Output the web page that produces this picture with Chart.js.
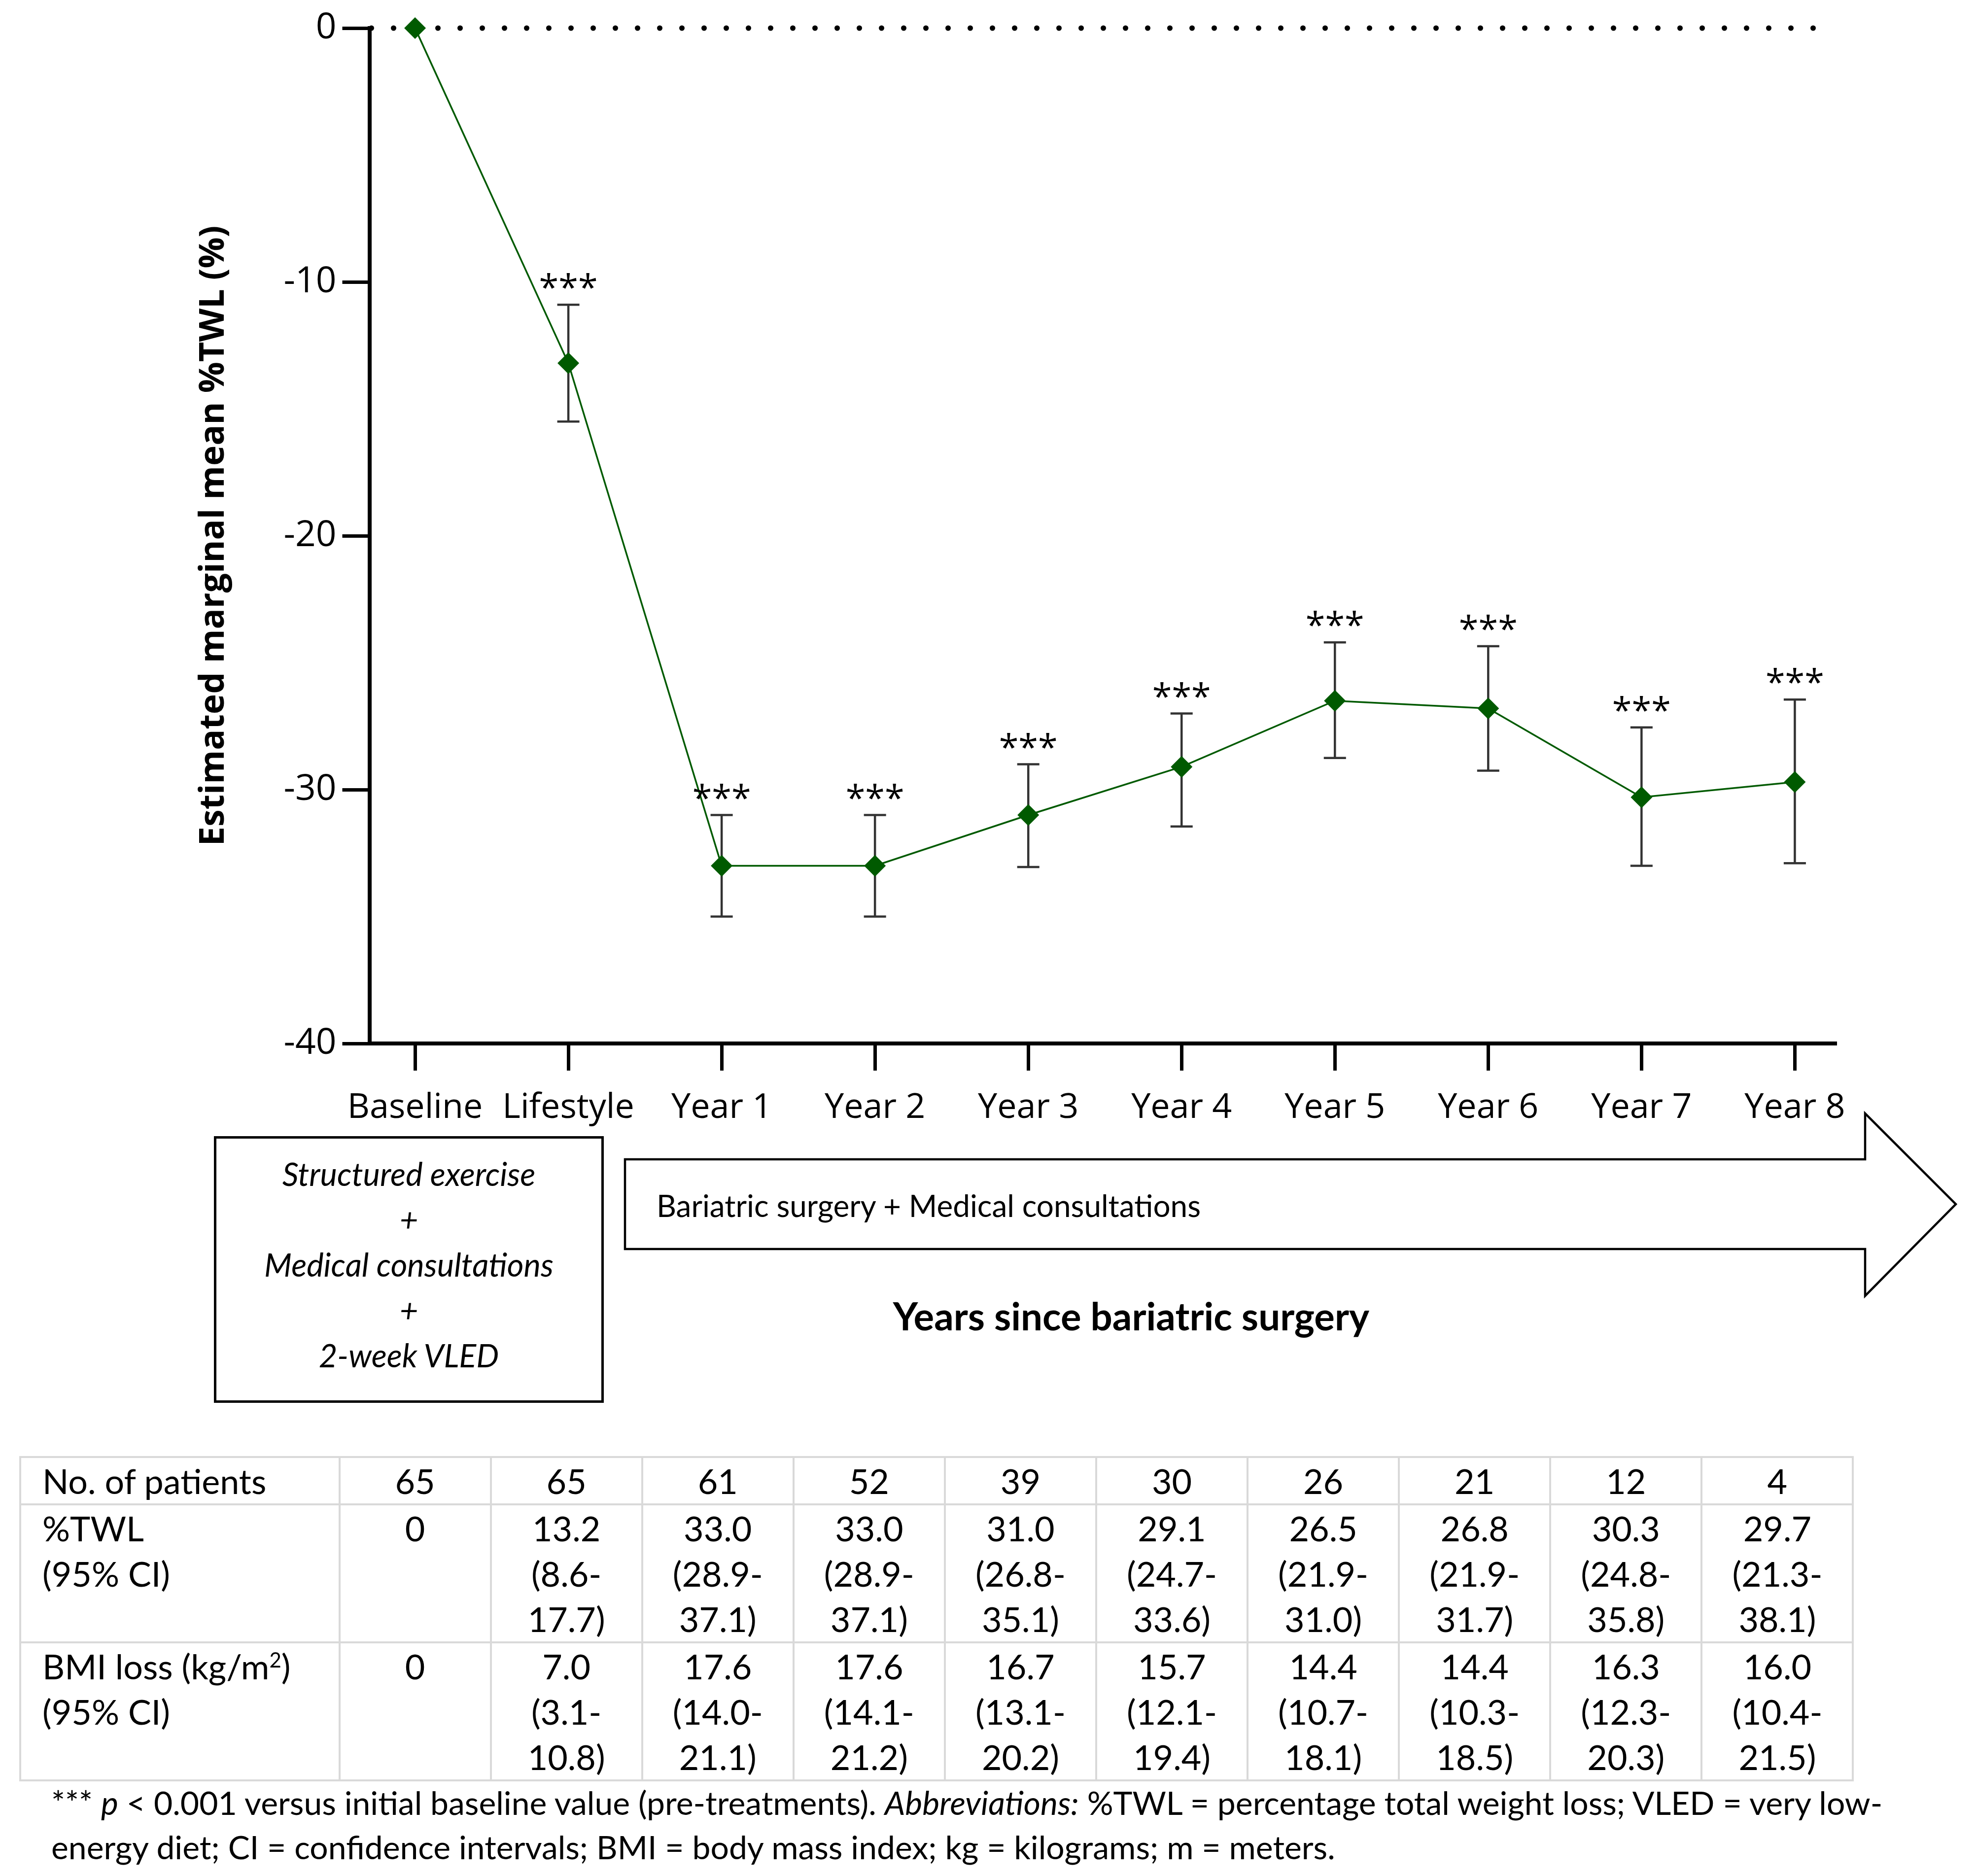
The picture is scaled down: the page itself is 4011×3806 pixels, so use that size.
<!DOCTYPE html>
<html>
<head>
<meta charset="utf-8">
<title>%TWL after lifestyle intervention and bariatric surgery</title>
<script src="https://cdn.jsdelivr.net/npm/chart.js@4.4.1/dist/chart.umd.min.js"></script>
<style>
  html, body { margin: 0; padding: 0; background: #fff; }
  #page { position: relative; width: 4011px; height: 3806px; overflow: hidden; background: #fff; color: #000; font-family: Lato, 'Open Sans', sans-serif; }
  #chart { position: absolute; left: 0; top: 0; }
  #shapes { position: absolute; left: 0; top: 0; }
  .txt { position: absolute; white-space: nowrap; }
  #phase1 { position: absolute; left: 434px; top: 2305px; width: 791px; height: 541px; box-sizing: border-box; border: 5px solid #000; }
  #phase1Text { left: 434px; top: 2335px; width: 791px; text-align: center; font-style: italic; font-size: 65px; line-height: 92px; }
  #phase2Text { left: 1332px; top: 2399px; font-size: 62px; line-height: 92px; }
  #xTitle { left: 1795px; top: 2623px; width: 1000px; text-align: center; font-weight: bold; font-size: 78px; line-height: 92px; }
  #summary { position: absolute; left: 39px; top: 2954px; border-collapse: collapse; table-layout: fixed; font-size: 70px; line-height: 92px; }
  #summary td { border: 4px solid #d9d9d9; padding: 0; vertical-align: top; text-align: center; }
  #summary td:first-child { text-align: left; padding-left: 43px; }
  sup { font-size: 0.6em; line-height: 0; }
  #footnote { left: 104px; top: 3612px; font-size: 66px; line-height: 90px; }
</style>
</head>
<body>
<div id="page">
  <canvas id="chart" width="4011" height="2300"></canvas>

  <!-- treatment phases under the x axis -->
  <svg id="shapes" width="4011" height="3806">
    <polygon points="1268,2352 3784,2352 3784,2259 3968,2443 3784,2629 3784,2534 1268,2534"
             fill="#fff" stroke="#000" stroke-width="4.5" stroke-linejoin="miter"/>
  </svg>
  <div id="phase1"></div>
  <div id="phase1Text" class="txt">Structured exercise<br>+<br>Medical consultations<br>+<br>2-week VLED</div>
  <div id="phase2Text" class="txt">Bariatric surgery + Medical consultations</div>
  <div id="xTitle" class="txt">Years since bariatric surgery</div>

  <table id="summary"><colgroup id="cols"></colgroup><tbody id="rows"></tbody></table>

  <div id="footnote" class="txt">*** <i>p</i> &lt; 0.001 versus initial baseline value (pre-treatments). <i>Abbreviations:</i> %TWL = percentage total weight loss; VLED = very low-<br>energy diet; CI = confidence intervals; BMI = body mass index; kg = kilograms; m = meters.</div>
</div>

<script>
// Time points
const categories = ['Baseline', 'Lifestyle', 'Year 1', 'Year 2', 'Year 3', 'Year 4', 'Year 5', 'Year 6', 'Year 7', 'Year 8'];

// Plotted estimated marginal mean %TWL and its error bar ends
const meanChange = [0, -13.2, -33.0, -33.0, -31.0, -29.1, -26.5, -26.8, -30.3, -29.7];
const errUpper = [null, -10.9, -31.0, -31.0, -29.0, -27.0, -24.2, -24.35, -27.55, -26.45];
const errLower = [null, -15.5, -35.0, -35.0, -33.05, -31.45, -28.75, -29.25, -33.0, -32.9];
const sigLabels = ['', '***', '***', '***', '***', '***', '***', '***', '***', '***'];
const yTicks = [0, -10, -20, -30, -40];

// Table below the chart
const patientCounts = [65, 65, 61, 52, 39, 30, 26, 21, 12, 4];
const twlMean = [0, 13.2, 33.0, 33.0, 31.0, 29.1, 26.5, 26.8, 30.3, 29.7];
const twlCiLow = [null, 8.6, 28.9, 28.9, 26.8, 24.7, 21.9, 21.9, 24.8, 21.3];
const twlCiHigh = [null, 17.7, 37.1, 37.1, 35.1, 33.6, 31.0, 31.7, 35.8, 38.1];
const bmiLoss = [0, 7.0, 17.6, 17.6, 16.7, 15.7, 14.4, 14.4, 16.3, 16.0];
const bmiCiLow = [null, 3.1, 14.0, 14.1, 13.1, 12.1, 10.7, 10.3, 12.3, 10.4];
const bmiCiHigh = [null, 10.8, 21.1, 21.2, 20.2, 19.4, 18.1, 18.5, 20.3, 21.5];

const green = '#005a00';
const canvasHeight = 2300;

// Error bars, the dotted zero line and the significance stars
const errorBars = {
  id: 'errorBars',
  beforeDatasetsDraw(chart) {
    const { ctx, chartArea, scales: { x, y } } = chart;
    ctx.save();

    // dotted reference line at 0
    const y0 = y.getPixelForValue(0);
    ctx.strokeStyle = '#000';
    ctx.lineWidth = 11;
    ctx.lineCap = 'round';
    ctx.setLineDash([0, 45]);
    ctx.beginPath();
    ctx.moveTo(chartArea.left + 4, y0);
    ctx.lineTo(chartArea.right - 30, y0);
    ctx.stroke();
    ctx.setLineDash([]);

    // whiskers
    ctx.strokeStyle = '#333';
    ctx.lineWidth = 4.5;
    ctx.lineCap = 'butt';
    errUpper.forEach((hi, i) => {
      if (hi === null) return;
      const px = x.getPixelForValue(i);
      const top = y.getPixelForValue(hi);
      const bottom = y.getPixelForValue(errLower[i]);
      ctx.beginPath();
      ctx.moveTo(px, top);
      ctx.lineTo(px, bottom);
      ctx.moveTo(px - 22.5, top);
      ctx.lineTo(px + 22.5, top);
      ctx.moveTo(px - 22.5, bottom);
      ctx.lineTo(px + 22.5, bottom);
      ctx.stroke();
    });
    ctx.restore();
  },
  afterDatasetsDraw(chart) {
    const { ctx, scales: { x, y } } = chart;
    ctx.save();
    ctx.fillStyle = '#000';
    ctx.font = '72px "Open Sans"';
    ctx.textAlign = 'center';
    ctx.textBaseline = 'alphabetic';
    sigLabels.forEach((s, i) => {
      if (!s) return;
      ctx.fillText(s, x.getPixelForValue(i), y.getPixelForValue(errUpper[i]) - 10);
    });
    ctx.restore();
  }
};

const ctx = document.getElementById('chart').getContext('2d');
new Chart(ctx, {
  type: 'line',
  data: {
    datasets: [{
      data: categories.map((c, i) => ({ x: i, y: meanChange[i] })),
      borderColor: green,
      backgroundColor: green,
      borderWidth: 3.5,
      pointStyle: 'rectRot',
      pointRadius: 22,
      pointHoverRadius: 22,
      pointBorderWidth: 0,
      tension: 0,
      clip: false
    }]
  },
  options: {
    responsive: false,
    animation: false,
    devicePixelRatio: 1,
    events: [],
    layout: { padding: { top: 57, right: 285, left: 0, bottom: 0 } },
    plugins: {
      legend: { display: false },
      tooltip: { enabled: false }
    },
    scales: {
      x: {
        type: 'linear',
        min: -0.2975,
        max: 9.272,
        afterBuildTicks: scale => { scale.ticks = categories.map((c, i) => ({ value: i })); },
        afterFit: scale => { scale.height = canvasHeight - 2117; },
        border: { display: true, color: '#000', width: 8 },
        grid: { drawOnChartArea: false, drawTicks: true, tickLength: 55, tickWidth: 7, tickColor: '#000', color: '#000' },
        ticks: {
          autoSkip: false,
          maxRotation: 0,
          padding: 34,
          color: '#000',
          font: { family: 'Open Sans', size: 70 },
          callback: v => categories[v]
        }
      },
      y: {
        min: -40,
        max: 0,
        afterBuildTicks: scale => { scale.ticks = yTicks.map(v => ({ value: v })); },
        afterFit: scale => { scale.width = 749.5; },
        border: { display: true, color: '#000', width: 8 },
        grid: { drawOnChartArea: false, drawTicks: true, tickLength: 55, tickWidth: 7, tickColor: '#000', color: '#000' },
        ticks: {
          padding: 12,
          color: '#000',
          font: { family: 'Open Sans', size: 73 },
          callback: v => String(v)
        },
        title: {
          display: true,
          text: 'Estimated marginal mean %TWL (%)',
          color: '#000',
          font: { family: 'Open Sans', size: 70, weight: 'bold' },
          padding: { top: 392, bottom: 0 }
        }
      }
    }
  },
  plugins: [errorBars]
});

// Build the summary table
function cell(v, lo, hi) {
  if (lo === null) return String(v);
  return v.toFixed(1) + '<br>(' + lo.toFixed(1) + '-<br>' + hi.toFixed(1) + ')';
}
const tableRows = [
  { label: 'No. of patients', height: 93.4, cells: patientCounts.map(String) },
  { label: '%TWL<br>(95% CI)', height: 277.5, cells: twlMean.map((v, i) => cell(v, twlCiLow[i], twlCiHigh[i])) },
  { label: 'BMI loss (kg/m<sup>2</sup>)<br>(95% CI)', height: 280, cells: bmiLoss.map((v, i) => cell(v, bmiCiLow[i], bmiCiHigh[i])) }
];
const cols = document.getElementById('cols');
[647.5].concat(categories.map(() => 307.1)).forEach(w => {
  const col = document.createElement('col');
  col.style.width = w + 'px';
  cols.appendChild(col);
});
const tbody = document.getElementById('rows');
tableRows.forEach(r => {
  const tr = document.createElement('tr');
  tr.style.height = r.height + 'px';
  tr.innerHTML = '<td>' + r.label + '</td>' + r.cells.map(c => '<td>' + c + '</td>').join('');
  tbody.appendChild(tr);
});
</script>
</body>
</html>
